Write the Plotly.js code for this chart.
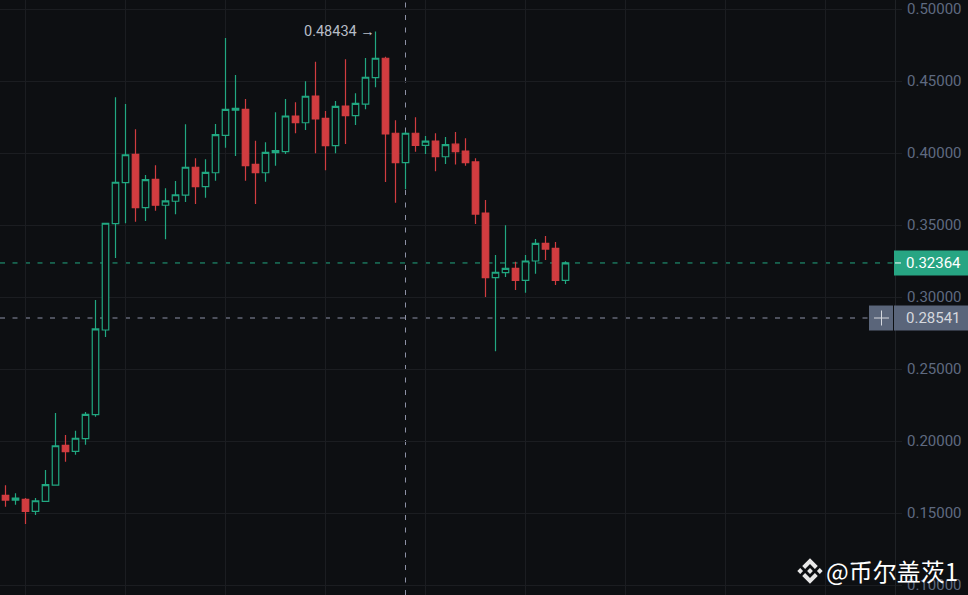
<!DOCTYPE html>
<html><head><meta charset="utf-8">
<script src="https://cdn.plot.ly/plotly-3.0.1.min.js"></script>
<style>html,body{margin:0;padding:0;background:#0d0f12;overflow:hidden}</style>
</head><body><div id="chart" style="width:968px;height:595px"></div>
<script>
const openPrices = [.1623,.1590,.1595,.1512,.1581,.1694,.1970,.1928,.2016,.2183,
.2771,.3509,.3794,.3991,.3620,.3817,.3637,.3665,.3708,.3901,
.3766,.3863,.4123,.4297,.4303,.3921,.3863,.4002,.4009,.4257,
.4210,.4396,.4241,.4051,.4326,.4259,.4340,.4523,.4658,.4137,
.3933,.4137,.4053,.4083,.3974,.4061,.4014,.3938,.3583,.3134,
.3169,.3199,.3116,.3250,.3373,.3338,.3116];
const highPrices = [.1692,.1637,.1604,.1604,.1799,.2194,.2042,.2072,.2201,.2979,
.3514,.4387,.4340,.4165,.3847,.3915,.3755,.3806,.4199,.3963,
.3956,.4201,.4799,.4542,.4375,.4085,.4074,.4283,.4375,.4352,
.4498,.4634,.4292,.4361,.4651,.4415,.4660,.48434,.4669,.4227,
.4148,.4248,.4118,.4137,.4111,.4146,.4102,.3963,.3674,.3292,
.3498,.3245,.3292,.3403,.3424,.3382,.3248];
const lowPrices = [.1544,.1558,.1424,.1486,.1581,.1694,.1856,.1905,.1974,.2169,
.2722,.3271,.3512,.3523,.3528,.3599,.3401,.3574,.3660,.3646,
.3690,.3808,.4037,.3979,.3808,.3646,.3801,.3912,.3993,.4137,
.4160,.3998,.3880,.3998,.4063,.4194,.4303,.4456,.3799,.3655,
.3748,.4009,.3993,.3873,.3924,.3921,.3912,.3507,.3000,.2623,
.3139,.3049,.3030,.3162,.3257,.3083,.3090];
const closePrices = [.1590,.1604,.1512,.1585,.1697,.1967,.1926,.2019,.2185,.2778,
.3512,.3797,.3988,.3620,.3815,.3637,.3667,.3710,.3901,.3766,
.3866,.4127,.4303,.4310,.3912,.3863,.4005,.4016,.4257,.4210,
.4394,.4236,.4051,.4324,.4259,.4345,.4526,.4658,.4132,.3933,
.4137,.4053,.4083,.3974,.4058,.4009,.3933,.3576,.3134,.3172,
.3199,.3116,.3250,.3373,.3333,.3116,.32364];
const candleIndex = openPrices.map((_, i) => i);
const lastPrice = 0.32364, crossPrice = 0.28541, crossIndex = 40, peakIndex = 37, peakPrice = 0.48434;

const BG = '#0d0f12', GREEN = '#21a881', RED = '#d13c40', GRID = '#1b1d21', TICK = '#5f6a80', CROSSBG = '#5a657a', LAST = '#27a583', DASHG = '#8d91a6';
const FONT = 'Roboto, "Noto Sans", sans-serif';

const logo = 'data:image/svg+xml;utf8,' + encodeURIComponent(
 '<svg xmlns="http://www.w3.org/2000/svg" viewBox="0 0 126 126"><g fill="#e8e8e8">' +
 '<path d="M63 50l13 13-13 13-13-13z"/><path d="M19 50l13 13-13 13L6 63z"/><path d="M107 50l13 13-13 13-13-13z"/>' +
 '<path d="M63 6l35 35-13 13-22-22-22 22-13-13z"/><path d="M63 120L28 85l13-13 22 22 22-22 13 13z"/></g></svg>');

const W = 895, H = 595;
function pxShape(level, x0, x1, y0, y1, extra) {
  return Object.assign({xref: 'paper', xsizemode: 'pixel', xanchor: 1, x0, x1,
    yref: 'y', ysizemode: 'pixel', yanchor: level, y0, y1, layer: 'above'}, extra);
}
function priceLabel(level, text, color) {
  return {xref: 'paper', x: 1, xanchor: 'left', xshift: 9, yref: 'y', y: level, yanchor: 'middle', showarrow: false,
    text, font: {family: FONT, size: 15, color}};
}
Plotly.newPlot('chart', [{
  type: 'candlestick', x: candleIndex, open: openPrices, high: highPrices, low: lowPrices, close: closePrices,
  increasing: {line: {color: GREEN, width: 1.2}, fillcolor: BG},
  decreasing: {line: {color: RED, width: 1.2}, fillcolor: RED},
  whiskerwidth: 0, hoverinfo: 'skip', showlegend: false
}], {
  width: 968, height: 595, margin: {l: 0, r: 73, t: 0, b: 0, pad: 0},
  paper_bgcolor: BG, plot_bgcolor: BG, boxgap: 0.35, boxgroupgap: 0, dragmode: false, showlegend: false,
  xaxis: {type: 'linear', range: [-0.55, 88.95], rangeslider: {visible: false}, showticklabels: false, ticks: '',
    tick0: 2, dtick: 10, showgrid: true, gridcolor: GRID, gridwidth: 1, zeroline: false},
  yaxis: {side: 'right', range: [0.09306, 0.50625], tick0: 0.1, dtick: 0.05, tickformat: '.5f',
    showgrid: true, gridcolor: GRID, gridwidth: 1, zeroline: false, showline: true, linecolor: '#1f2226', linewidth: 1,
    ticks: 'outside', ticklen: 6, tickcolor: GRID, tickwidth: 1, ticklabelstandoff: 2,
    tickfont: {family: FONT, size: 15, color: TICK}},
  shapes: [
    {type: 'line', layer: 'below', xref: 'paper', x0: 0, x1: 1, yref: 'y', y0: lastPrice, y1: lastPrice,
     line: {color: GREEN, width: 1, dash: '5px,7.5px'}},
    {type: 'line', layer: 'below', xref: 'paper', x0: 0, x1: 1, yref: 'y', y0: crossPrice, y1: crossPrice,
     line: {color: DASHG, width: 1, dash: '5px,7.5px'}},
    {type: 'line', layer: 'below', xref: 'x', x0: crossIndex, x1: crossIndex, yref: 'paper', y0: 0, y1: 1,
     line: {color: DASHG, width: 1, dash: '5px,7.5px'}},
    pxShape(lastPrice, -1, 73, -12.5, 12.5, {type: 'rect', fillcolor: LAST, line: {width: 0}}),
    pxShape(lastPrice, 0, 6, 0, 0, {type: 'line', line: {color: '#ffffff', width: 1}}),
    pxShape(crossPrice, -1, 73, -12.5, 12.5, {type: 'rect', fillcolor: CROSSBG, line: {width: 0}}),
    pxShape(crossPrice, -26, -2, -12.5, 12.5, {type: 'rect', fillcolor: CROSSBG, line: {width: 0}}),
    pxShape(crossPrice, -21, -6, 0, 0, {type: 'line', line: {color: '#d5d8de', width: 1}}),
    pxShape(crossPrice, -13.5, -13.5, -7.5, 7.5, {type: 'line', line: {color: '#d5d8de', width: 1}})
  ],
  images: [{source: logo, xref: 'paper', yref: 'paper', x: 796/W, y: 1 - 557/H, sizex: 28/W, sizey: 28/H,
    xanchor: 'left', yanchor: 'top', layer: 'above'}],
  annotations: [
    priceLabel(lastPrice, '0.32364', '#ffffff'),
    priceLabel(crossPrice, '0.28541', '#d5d8de'),
    {xref: 'x', x: peakIndex, xanchor: 'right', xshift: 1, yref: 'y', y: peakPrice, yanchor: 'middle', showarrow: false,
     text: '0.48434 →', font: {family: FONT, size: 14.5, color: '#b7bdc6'}},
    {xref: 'paper', x: 824/W, xanchor: 'left', yref: 'paper', y: 1 - 570/H, yanchor: 'middle', showarrow: false,
     text: '@币尔盖茨1', font: {family: '"Noto Sans CJK SC", sans-serif', size: 24, color: '#ffffff'}}
  ]
}, {displayModeBar: false, staticPlot: true});
</script></body></html>
